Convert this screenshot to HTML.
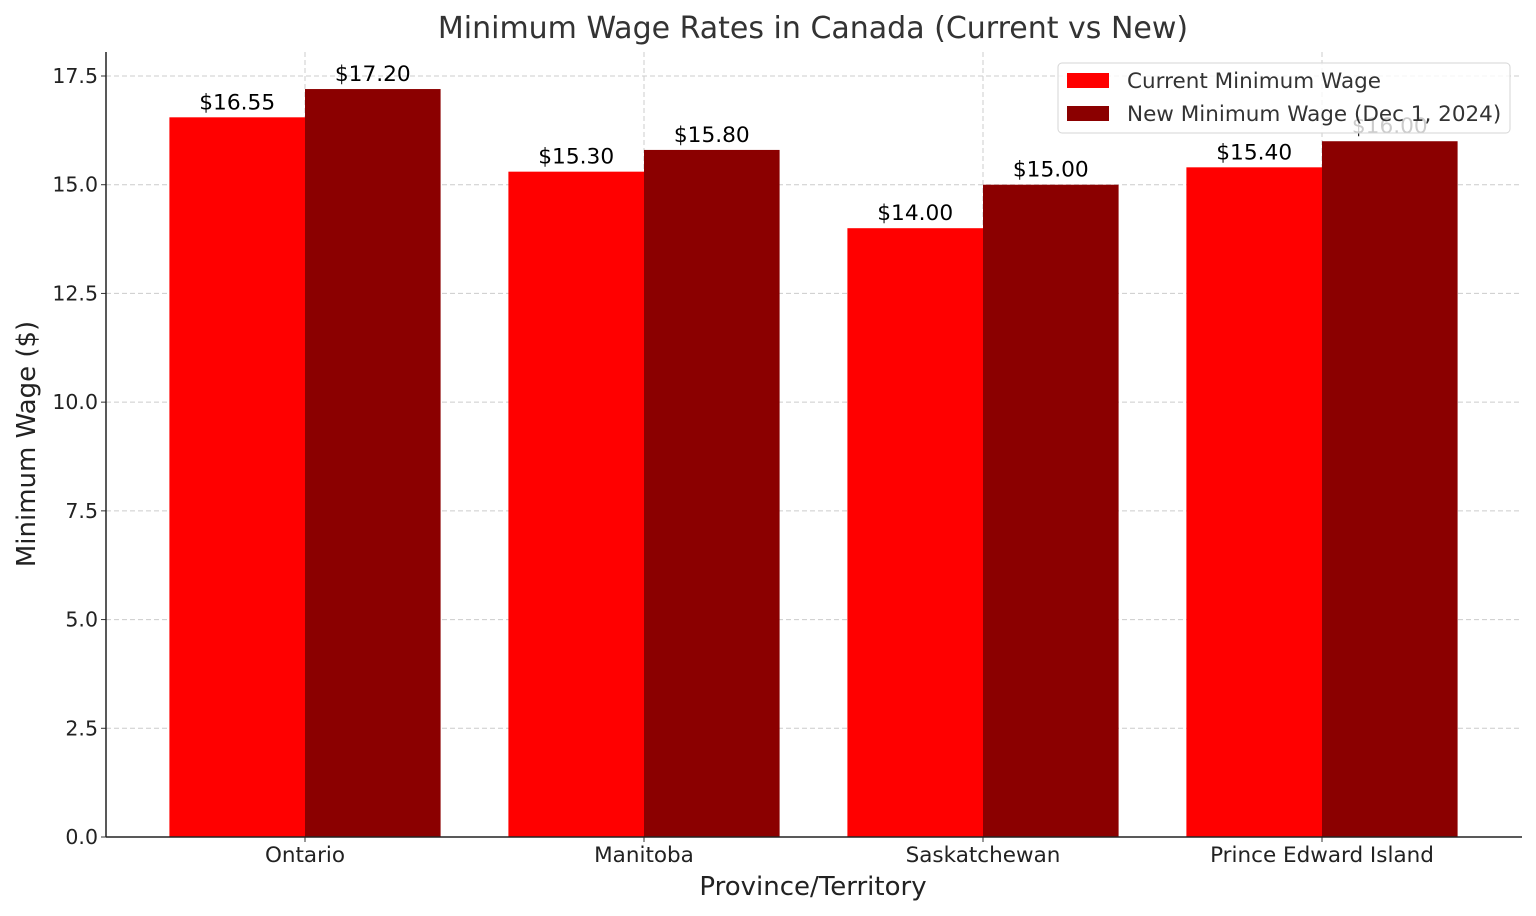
<!DOCTYPE html>
<html><head><meta charset="utf-8"><style>
html,body{margin:0;padding:0;background:#fff;}
svg{display:block;font-family:"DejaVu Sans","Liberation Sans",sans-serif;}
</style></head><body>
<svg id="chart" width="1536" height="916" viewBox="0 0 1536 916"></svg>
<script>
const categories = ["Ontario","Manitoba","Saskatchewan","Prince Edward Island"];
const currentWage = [16.55, 15.30, 14.00, 15.40];
const newWage = [17.20, 15.80, 15.00, 16.00];
const yTicks = [0, 2.5, 5, 7.5, 10, 12.5, 15, 17.5];
const seriesNames = ["Current Minimum Wage","New Minimum Wage (Dec 1, 2024)"];

const svg = document.getElementById('chart');
const NS = 'http://www.w3.org/2000/svg';
const L=106, R=1522, T=52, B=837;
const y = v => 837 - v*(837-76)/17.5;
const x = i => 305 + i*339;
const bw = 135.6;
function mk(tag, attrs, parent){const e=document.createElementNS(NS,tag);for(const k in attrs)e.setAttribute(k,attrs[k]);(parent||svg).appendChild(e);return e;}

yTicks.forEach(t=>{
  const g=mk('line',{x1:L,x2:R,y1:y(t),y2:y(t),stroke:'#cccccc','stroke-width':1,'stroke-dasharray':'5,3'});
  
  
});
categories.forEach((c,i)=>{
  const g=mk('line',{x1:x(i),x2:x(i),y1:T,y2:B,stroke:'#cccccc','stroke-width':1,'stroke-dasharray':'5,3'});
  
  
});
categories.forEach((c,i)=>{
  const b1=mk('rect',{x:x(i)-bw,y:y(currentWage[i]),width:bw,height:B-y(currentWage[i]),fill:'#ff0000'});
  
  
  const b2=mk('rect',{x:x(i),y:y(newWage[i]),width:bw,height:B-y(newWage[i]),fill:'#8b0000'});
  
  
  const t1=mk('text',{x:x(i)-bw/2,y:y(currentWage[i])-8,'text-anchor':'middle','font-size':21.7,fill:'#000'});
  t1.textContent='$'+currentWage[i].toFixed(2);
  
  
  const t2=mk('text',{x:x(i)+bw/2,y:y(newWage[i])-8,'text-anchor':'middle','font-size':21.7,fill:'#000'});
  t2.textContent='$'+newWage[i].toFixed(2);
  
  
  const xl=mk('text',{x:x(i),y:862,'text-anchor':'middle','font-size':21.5,fill:'#222'});
  xl.textContent=c;
  
  
  mk('line',{x1:x(i),x2:x(i),y1:B,y2:B+5,stroke:'#333','stroke-width':1});
});
yTicks.forEach(t=>{
  mk('line',{x1:L-5,x2:L,y1:y(t),y2:y(t),stroke:'#333','stroke-width':1});
  const tl=mk('text',{x:L-8,y:y(t)+7,'text-anchor':'end','font-size':20.5,fill:'#222'});
  tl.textContent=t.toFixed(1);
  
  
});
mk('line',{x1:L,x2:L,y1:T,y2:B,stroke:'#222','stroke-width':1.5});
mk('line',{x1:L,x2:R,y1:B,y2:B,stroke:'#222','stroke-width':1.5});
const tt=mk('text',{x:813,y:38,'text-anchor':'middle','font-size':30,fill:'#333'});
tt.textContent='Minimum Wage Rates in Canada (Current vs New)';


const xt=mk('text',{x:813,y:895,'text-anchor':'middle','font-size':26,fill:'#222'});
xt.textContent='Province/Territory';


const yt=mk('text',{x:35,y:444,'text-anchor':'middle','font-size':26,fill:'#222',transform:'rotate(-90 35 444)'});
yt.textContent='Minimum Wage ($)';


const lg=mk('g',{});


mk('rect',{x:1058,y:63,width:452,height:70,rx:4,fill:'rgba(255,255,255,0.8)',stroke:'#d6d6d6','stroke-width':1},lg);
const colors=['#ff0000','#8b0000'];
seriesNames.forEach((n,k)=>{
  const e=mk('g',{},lg);
  
  
  mk('rect',{x:1067,y:73+k*33,width:42,height:15,fill:colors[k]},e);
  const t=mk('text',{x:1127,y:88+k*33,'font-size':21.5,fill:'#333'},e);
  t.textContent=n;
});
</script>
</body></html>
